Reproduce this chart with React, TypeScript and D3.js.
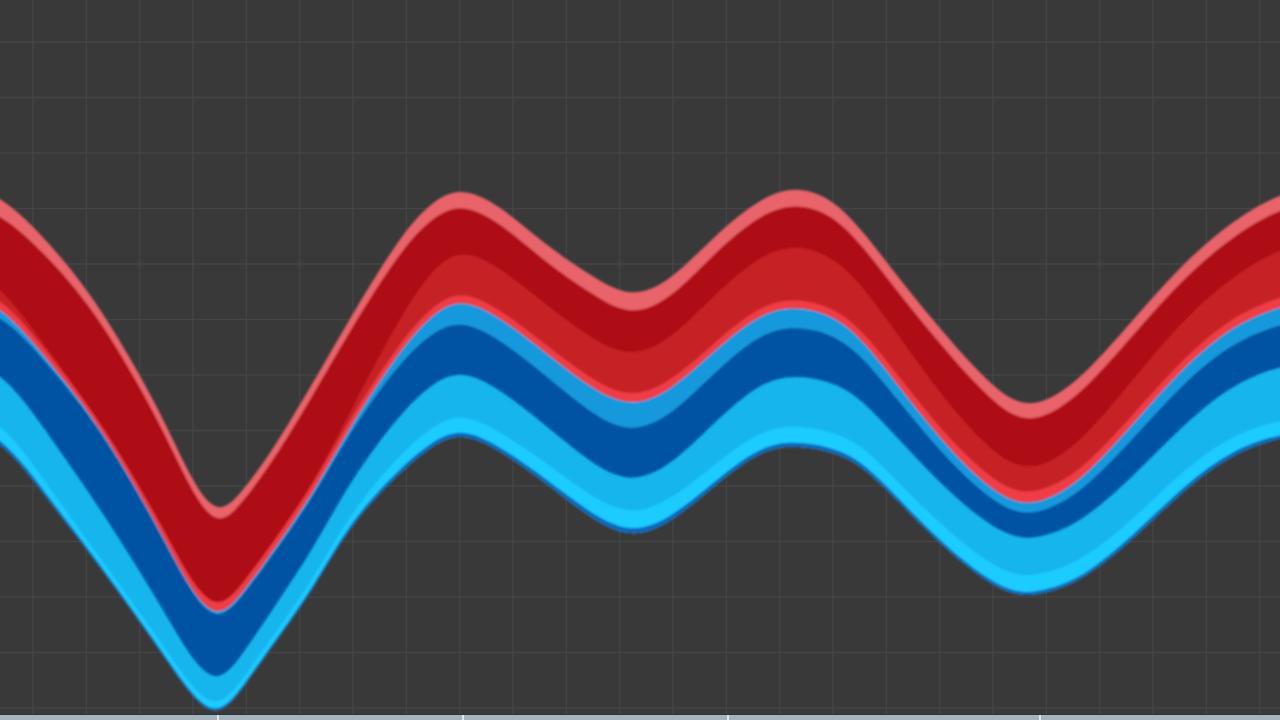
import React, { useRef, useEffect } from 'react';
import * as d3 from 'd3';

// ── Data (sample positions along the stream, layer thicknesses bottom → top) ──
const T = [-4, 0, 5, 10, 16, 19, 21.8, 24.5, 27.3, 31.3, 35, 40, 43, 46, 50, 54.5, 59, 63, 67, 71.5, 76, 79.5, 83, 86, 90, 93.3, 96.7, 100, 102.5, 105, 108.3, 113.3, 118.3, 123.3, 128, 132];

// height of the stream's lower edge above the frame bottom
const BASE = [288, 284, 218, 154, 70, 25, 0, 35, 75, 130, 196, 248, 273, 289, 270, 238, 202, 181, 196, 235, 270, 275, 269, 257, 217, 183, 153, 130, 123, 128, 140, 180, 230, 267, 283, 288];

const OUTLINE     = [4, 4, 3, 2, 2, 2, 2, 2, 2, 2, 3, 4, 4, 4, 4, 4, 5, 5, 5, 4, 4, 4, 4, 4, 3, 3, 3, 3, 3, 3, 3, 4, 4, 4, 3, 3];
const BRIGHT_CYAN = [15, 15, 10, 6, 8, 7, 7, 7, 7, 8, 8, 14, 15, 15, 15, 16, 17, 18, 18, 17, 16, 16, 16, 16, 16, 17, 17, 17, 17, 17, 17, 16, 16, 15, 14, 14];
const LIGHT_CYAN  = [48, 50, 52, 50, 36, 28, 24, 25, 27, 30, 32, 40, 43, 43, 42, 37, 33, 32, 34, 42, 48, 50, 50, 46, 43, 41, 39, 38, 37, 37, 39, 43, 45, 50, 54, 55];
const DARK_BLUE   = [53, 57, 70, 81, 72, 66, 62, 58, 55, 52, 50, 52, 51, 50, 50, 50, 50, 50, 50, 50, 49, 49, 48, 44, 38, 33, 29, 26, 25, 26, 30, 38, 42, 42, 42, 43];
const MED_BLUE    = [14, 8, 4, 2, 2, 2, 3, 3, 3, 4, 5, 12, 18, 22, 22, 23, 25, 26, 25, 22, 20, 20, 19, 17, 15, 13, 11, 10, 10, 10, 12, 15, 16, 17, 18, 18];
const BRIGHT_RED  = [8, 9, 7, 5, 8, 9, 9, 9, 8, 8, 8, 8, 8, 8, 8, 8, 9, 9, 9, 8, 8, 8, 8, 9, 10, 10, 11, 11, 11, 11, 10, 9, 9, 9, 10, 10];
const MED_RED     = [25, 10, 3, 0, 0, 0, 0, 0, 1, 2, 6, 25, 36, 42, 42, 40, 41, 41, 42, 48, 50, 54, 51, 45, 40, 36, 31, 27, 25, 25, 29, 35, 39, 40, 48, 48];
const DARK_RED    = [63, 71, 95, 103, 100, 92, 83, 82, 81, 89, 82, 66, 53, 45, 45, 42, 45, 41, 41, 42, 41, 41, 42, 40, 43, 49, 51, 50, 48, 48, 48, 45, 41, 40, 40, 40];
const SALMON      = [16, 19, 15, 12, 12, 11, 11, 11, 11, 12, 12, 15, 16, 16, 17, 17, 18, 18, 18, 17, 16, 17, 16, 15, 15, 15, 15, 15, 15, 15, 15, 15, 15, 16, 15, 15];

const LAYERS = [
  { key: 'outline', values: OUTLINE, color: '#0a66bb' },
  { key: 'brightCyan', values: BRIGHT_CYAN, color: '#1ecbff' },
  { key: 'lightCyan', values: LIGHT_CYAN, color: '#12b5ee' },
  { key: 'darkBlue', values: DARK_BLUE, color: '#0352a2' },
  { key: 'medBlue', values: MED_BLUE, color: '#1898dc' },
  { key: 'brightRed', values: BRIGHT_RED, color: '#ee3d44' },
  { key: 'medRed', values: MED_RED, color: '#c62126' },
  { key: 'darkRed', values: DARK_RED, color: '#ae1015' },
  { key: 'salmon', values: SALMON, color: '#e8646b' },
];

// small notches on the bottom rule
const AXIS_TICKS = [21.8, 46.3, 72.8, 104];

const W = 1280;
const H = 720;

export default function App() {
  const svgRef = useRef<SVGSVGElement>(null);

  useEffect(() => {
    if (!svgRef.current) return;
    const svg = d3.select(svgRef.current);
    svg.selectAll('*').remove();

    const x = d3.scaleLinear().domain([0, 128]).range([0, W]);
    const y = d3.scaleLinear().domain([0, 720]).range([H, 0]);

    // ── Background + grid ───────────────────────────────────────────────────
    svg.append('rect').attr('width', W).attr('height', H).attr('fill', '#393939');

    const grid = svg.append('g').attr('stroke', '#454545').attr('stroke-width', 1.3);
    d3.range(3.3, 128, 16 / 3).forEach(v => {
      grid.append('line').attr('x1', x(v)).attr('x2', x(v)).attr('y1', 0).attr('y2', H);
    });
    d3.range(12, 700, 55.5).forEach(v => {
      grid.append('line').attr('x1', 0).attr('x2', W).attr('y1', y(v)).attr('y2', y(v));
    });

    // ── Stack ───────────────────────────────────────────────────────────────
    const keys = ['base', ...LAYERS.map(l => l.key)];
    const rows = T.map((t, i) => {
      const row: Record<string, number> = { t, base: BASE[i] };
      LAYERS.forEach(l => { row[l.key] = l.values[i]; });
      return row;
    });
    const series = d3.stack<Record<string, number>>().keys(keys)(rows);

    const defs = svg.append('defs');
    defs.append('filter').attr('id', 'soft')
      .append('feGaussianBlur').attr('stdDeviation', 0.8);

    // each layer filled from the stream's bottom up to its own top edge,
    // painted top layer first so shared edges never leave seams
    const area = d3.area<d3.SeriesPoint<Record<string, number>>>()
      .x(d => x(d.data.t))
      .y0(d => y(d.data.base))
      .y1(d => y(d[1]))
      .curve(d3.curveBasis);

    const bands = svg.append('g').attr('filter', 'url(#soft)');
    const drawn = series.slice(1).map((s, i) => ({ s, color: LAYERS[i].color })).reverse();
    drawn.forEach(({ s, color }) => {
      bands.append('path').attr('d', area(s) as string).attr('fill', color);
    });

    // ── Bottom rule ─────────────────────────────────────────────────────────
    svg.append('rect').attr('x', 0).attr('y', 714).attr('width', W).attr('height', 1).attr('fill', '#2e3336');
    svg.append('rect').attr('x', 0).attr('y', 715).attr('width', W).attr('height', 5).attr('fill', '#a2b4bc');
    AXIS_TICKS.forEach(v => {
      svg.append('rect').attr('x', x(v) - 1).attr('y', 715).attr('width', 2).attr('height', 5).attr('fill', '#dfe8ec');
    });
  }, []);

  return (
    <svg
      ref={svgRef}
      width={W}
      height={H}
      style={{ position: 'fixed', left: 0, top: 0, display: 'block' }}
    />
  );
}
